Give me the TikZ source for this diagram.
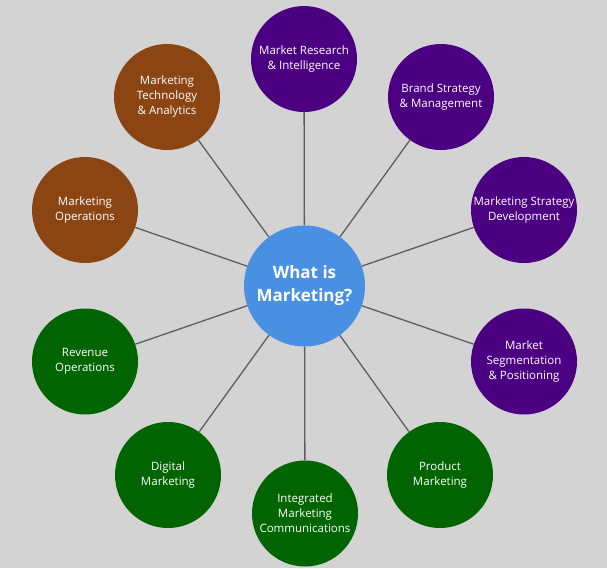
\documentclass[tikz,border=0pt]{standalone}
\usepackage{fontspec}
\setmainfont{Open Sans}
\definecolor{bg}{HTML}{D3D3D3}
\definecolor{purp}{HTML}{4B0082}
\definecolor{brwn}{HTML}{8B4513}
\definecolor{grn}{HTML}{006400}
\definecolor{ctr}{HTML}{4A90E2}
\definecolor{lnk}{HTML}{5E5E5E}
\begin{document}
\begin{tikzpicture}[x=1pt,y=-1pt,
  topic/.style={circle,minimum size=106pt,inner sep=0pt,align=center,text=white,
    font=\fontsize{11.5}{15}\selectfont},
  purpletopic/.style={topic,fill=purp},
  browntopic/.style={topic,fill=brwn},
  greentopic/.style={topic,fill=grn},
  hub/.style={circle,fill=ctr,minimum size=121pt,inner sep=0pt,align=center,text=white,
    font=\bfseries\fontsize{17}{23}\selectfont},
  link/.style={draw=lnk,line width=1.3pt}]
\fill[bg] (0,0) rectangle (607,568);
\useasboundingbox (0,0) rectangle (607,568);
\node[hub] (c) at (304.5,286) {What is\\Marketing?};
\node[purpletopic] (mr) at (304,59) {Market Research\\\& Intelligence};
\node[purpletopic] (bs) at (441,97) {Brand Strategy\\\& Management};
\node[purpletopic] (ms) at (524,210) {Marketing Strategy\\Development};
\node[purpletopic] (sp) at (524,361.5) {Market\\Segmentation\\\& Positioning};
\node[greentopic] (pm) at (440,475) {Product\\Marketing};
\node[greentopic] (im) at (305,513.5) {Integrated\\Marketing\\Communications};
\node[greentopic] (dm) at (168,475) {Digital\\Marketing};
\node[greentopic] (ro) at (85,361.5) {Revenue\\Operations};
\node[browntopic] (mo) at (85,210) {Marketing\\Operations};
\node[browntopic] (mt) at (167,97) {Marketing\\Technology\\\& Analytics};
\foreach \n in {mr,bs,ms,sp,pm,im,dm,ro,mo,mt}{
  \draw[link] (c) -- (\n);
}
\end{tikzpicture}
\end{document}
